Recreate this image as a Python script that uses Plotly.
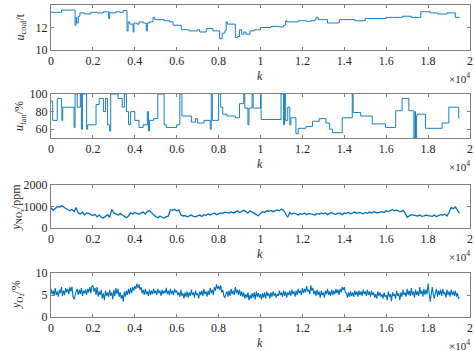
import plotly.graph_objects as go

# ---------------- data ----------------
# u_coal (t): step breakpoints (k) and values
coal_k = [0, 500, 1150, 1200, 1230, 1300, 1380, 1600, 1900, 2200, 2500, 2750, 2800, 2850, 3100, 3300, 3440,
          3630, 3680, 3760, 3920, 3960, 4100, 4200, 4400, 4550, 4600, 4700, 4870, 4950, 5400, 5670, 5830,
          6220, 6600, 7000, 7100, 7410, 7730, 8050, 8170, 8300, 8360, 8420, 8800, 8900, 9000, 9100, 9200,
          9300, 9500, 9700, 10000, 10500, 10900, 11100, 11200, 11250, 11500, 11800, 12200, 12400, 12600,
          12650, 12750, 13200, 13760, 13900, 14500, 15000, 15190, 16000, 16300, 16780, 17000, 17200, 17650,
          18100, 18450, 18900, 19300, 19500]
coal_v = [13.35, 13.55, 12.2, 12.9, 12.4, 13.0, 13.3, 13.2, 13.35, 13.3, 13.4, 12.8, 13.35, 13.3, 13.4,
          13.35, 13.5, 11.7, 12.5, 12.3, 11.6, 12.4, 12.3, 12.5, 12.4, 11.7, 12.4, 12.5, 12.9, 12.7, 12.6,
          12.5, 12.2, 11.8, 11.7, 11.8, 11.6, 11.9, 11.7, 11.0, 11.5, 11.7, 12.5, 12.3, 11.1, 11.2, 11.8,
          11.4, 11.6, 11.4, 11.7, 11.8, 12.0, 12.1, 12.05, 12.2, 12.6, 12.5, 12.5, 12.6, 12.55, 12.6, 12.7,
          12.9, 12.7, 12.4, 12.7, 12.7, 12.6, 12.8, 12.8, 12.9, 12.9, 13.0, 13.0, 12.9, 13.4, 13.3, 13.2,
          13.3, 12.9, 12.9]

# u_fan (%): step breakpoints (k) and values
fan_k = [0, 80, 300, 500, 520, 560, 1100, 1150, 1250, 1400, 1450, 1500, 1700, 1750, 2150, 2300, 2500,
         2600, 2700, 2800, 2850, 3200, 3400, 3500, 3600, 3700, 3800, 4000, 4200, 4400, 4600, 4650, 4700,
         4900, 5100, 5400, 5500, 6000, 6150, 6250, 6500, 6700, 6900, 7000, 7300, 7600, 7650, 7700, 8000,
         8100, 8200, 8400, 8800, 9000, 9200, 9250, 9400, 9450, 9600, 9650, 10000, 10030, 10980, 11100,
         11150, 11200, 11300, 11400, 11450, 11690, 11800, 12170, 12480, 12800, 13120, 13300, 13440, 13900,
         14380, 14420, 14780, 15330, 15970, 16450, 16760, 17080, 17320, 17370, 17400, 17450, 17480, 17880,
         18670, 18990, 19460, 19500]
fan_v = [92, 70, 95, 85, 70, 85, 62, 100, 85, 100, 60, 100, 60, 65, 88, 95, 80, 95, 65, 58, 100, 95,
         85, 100, 80, 65, 80, 70, 62, 65, 80, 58, 70, 72, 100, 65, 62, 65, 100, 75, 75, 68, 72, 67, 70,
         60, 100, 70, 100, 85, 77, 75, 73, 89, 100, 84, 65, 84, 100, 84, 100, 71, 100, 65, 100, 70, 85,
         65, 73, 55, 61, 63, 69, 72, 67, 60, 56, 73, 100, 79, 75, 66, 62, 81, 95, 81, 50, 80, 50, 75, 77,
         61, 67, 85, 73, 73]

# y_NOx (ppm), sampled every 100 steps of k
nox_k = list(range(0, 19600, 100))
nox_v = [950, 820, 900, 1000, 960, 1040, 980, 900, 850, 800,
         870, 760, 950, 700, 650, 740, 600, 700, 680, 620,
         580, 640, 520, 600, 500, 460, 560, 620, 500, 870,
         700, 650, 600, 680, 620, 540, 480, 560, 700, 650,
         720, 680, 640, 700, 740, 650, 760, 800, 700, 620,
         520, 480, 560, 500, 460, 520, 560, 850, 820, 870,
         800, 840, 600, 560, 580, 520, 560, 600, 540, 520,
         560, 600, 540, 620, 580, 660, 600, 640, 700, 620,
         660, 700, 680, 740, 720, 700, 760, 700, 740, 800,
         720, 760, 820, 760, 700, 800, 720, 680, 620, 570,
         680, 760, 720, 800, 780, 820, 760, 800, 840, 800,
         880, 820, 640, 500, 720, 640, 700, 660, 600, 680,
         640, 700, 620, 680, 660, 640, 600, 680, 640, 700,
         660, 700, 620, 680, 720, 660, 640, 700, 680, 620,
         700, 680, 720, 660, 700, 740, 680, 720, 700, 660,
         720, 680, 740, 700, 760, 720, 700, 740, 760, 720,
         800, 760, 820, 860, 800, 840, 780, 760, 820, 700,
         500, 560, 620, 600, 580, 560, 600, 540, 560, 600,
         580, 560, 540, 600, 520, 580, 620, 600, 640, 560,
         720, 950, 900, 980, 800, 680]

# y_O2 (%), sampled every 50 steps of k
o2_k = list(range(0, 19550, 50))
o2_v = [6.4, 5.2, 6.0, 4.8, 6.6, 5.0, 5.8, 4.6, 6.2, 5.4, 6.8, 4.8, 6.0, 5.0, 6.6, 5.6, 6.4, 5.2, 6.8, 5.8,
        6.9, 4.6, 4.0, 5.4, 5.8, 6.4, 5.0, 6.2, 5.2, 6.6, 4.8, 6.0, 5.4, 6.2, 5.0, 6.4, 5.6, 6.8, 5.4, 7.0,
        7.2, 5.8, 6.6, 5.0, 6.8, 4.6, 5.8, 5.0, 6.2, 4.2, 5.4, 3.8, 6.0, 4.8, 5.6, 4.6, 6.2, 4.8, 5.6, 4.0,
        6.2, 4.8, 6.6, 5.2, 6.4, 4.6, 5.6, 4.2, 5.0, 3.5, 5.8, 4.6, 6.0, 5.0, 6.4, 5.2, 6.6, 5.4, 6.8, 6.0,
        7.0, 6.4, 7.6, 6.6, 7.4, 6.2, 6.8, 5.4, 6.2, 5.0, 6.4, 5.2, 5.8, 4.8, 6.2, 5.0, 6.0, 5.2, 6.4, 5.4,
        6.0, 5.0, 6.4, 5.4, 6.0, 4.8, 6.2, 5.2, 6.0, 5.4, 6.6, 5.2, 6.0, 5.0, 6.4, 5.2, 6.0, 5.0, 6.4, 5.6,
        6.0, 5.0, 5.6, 4.6, 6.2, 4.8, 5.4, 4.2, 5.6, 4.6, 5.8, 4.4, 5.6, 4.8, 6.2, 5.0, 5.6, 4.4, 6.0, 5.0,
        5.4, 4.2, 5.8, 5.0, 6.0, 4.8, 6.4, 5.2, 5.8, 4.6, 6.0, 5.0, 6.6, 5.4, 6.2, 5.0, 6.8, 6.0, 7.4, 6.4,
        7.0, 6.2, 7.2, 5.6, 6.2, 4.8, 4.4, 5.2, 5.8, 4.6, 6.0, 4.8, 6.4, 5.2, 6.0, 5.0, 6.8, 5.4, 6.2, 5.0,
        6.2, 4.8, 5.8, 4.6, 5.6, 4.2, 5.2, 4.4, 5.6, 3.8, 5.0, 4.2, 5.4, 4.4, 5.6, 4.0, 5.8, 4.6, 5.4, 4.4,
        5.2, 4.0, 5.4, 4.4, 5.6, 4.2, 5.8, 4.8, 5.4, 4.2, 5.6, 4.6, 5.8, 4.8, 5.4, 4.4, 5.2, 4.8, 6.0, 5.0,
        5.6, 4.6, 6.0, 4.8, 5.8, 4.4, 5.6, 5.0, 6.0, 4.8, 6.2, 5.2, 5.8, 4.6, 6.0, 5.0, 6.4, 5.4, 6.0, 5.0,
        6.6, 5.4, 6.4, 5.6, 7.0, 5.8, 6.2, 5.2, 7.2, 6.0, 6.6, 5.2, 6.0, 4.8, 6.2, 5.0, 5.8, 4.4, 6.0, 5.0,
        5.6, 4.4, 6.0, 5.2, 6.4, 5.0, 5.8, 4.8, 6.2, 5.0, 6.0, 5.2, 6.4, 5.4, 6.2, 5.0, 6.4, 5.6, 6.8, 6.2,
        6.8, 5.6, 5.4, 4.4, 5.6, 4.6, 5.8, 4.8, 5.6, 4.6, 6.0, 5.0, 5.8, 4.6, 6.0, 5.0, 5.8, 4.8, 6.2, 5.2,
        5.8, 4.8, 6.2, 5.0, 5.8, 4.6, 6.0, 5.0, 5.6, 4.4, 5.2, 4.2, 5.8, 4.8, 5.6, 4.6, 5.2, 4.2, 5.6, 4.6,
        5.0, 3.8, 5.8, 4.6, 5.2, 3.6, 5.6, 4.8, 5.2, 4.2, 6.0, 4.8, 5.4, 3.8, 5.6, 4.6, 6.2, 5.0, 5.6, 4.6,
        6.4, 5.0, 6.0, 4.8, 6.6, 5.0, 5.8, 4.4, 6.2, 5.0, 5.8, 4.8, 6.8, 5.2, 6.0, 4.6, 6.4, 5.0, 6.2, 5.2,
        7.6, 5.4, 3.5, 5.2, 6.8, 5.0, 4.2, 5.6, 6.4, 4.6, 6.0, 5.0, 6.2, 4.8, 6.4, 5.2, 5.6, 4.4, 6.2, 5.0,
        5.8, 4.6, 6.2, 5.0, 5.8, 4.8, 6.0, 4.6, 5.4, 4.2, 4.4]

x_tickvals = [0, 2000, 4000, 6000, 8000, 10000, 12000, 14000, 16000, 18000, 20000]
x_ticktext = ["0", "0.2", "0.4", "0.6", "0.8", "1", "1.2", "1.4", "1.6", "1.8", "2"]

y_ranges = [[10, 14], [50, 100], [0, 2000], [0, 10]]
y_tickvals = [[10, 12, 14], [60, 80, 100], [0, 1000, 2000], [0, 5, 10]]
y_titles = ["<i>u</i><sub>coal</sub>/t", "<i>u</i><sub>fan</sub>/%",
            "<i>y</i><sub>NO<sub>x</sub></sub>/ppm", "<i>y</i><sub>O<sub>2</sub></sub>/%"]
y_title_x = [21, 20, 16, 17]

# ---------------- layout geometry (pixels) ----------------
W, H = 474, 351
x_left, x_right = 51, 470
panels = [(5, 50), (94, 138), (185, 228), (273, 317)]  # (top, bottom) in px

LINE = "#0072BD"
FONT = "Liberation Serif"
AX = "#808080"
TXT = "#262626"

fig = go.Figure()
series = [(coal_k, coal_v, "hv", 0.9), (fan_k, fan_v, "hv", 0.9),
          (nox_k, nox_v, "linear", 1.3), (o2_k, o2_v, "linear", 1.1)]

annotations = []
for i, ((xs, ys, shape, w), (top, bot)) in enumerate(zip(series, panels)):
    n = "" if i == 0 else str(i + 1)
    fig.add_trace(go.Scatter(x=xs, y=ys, mode="lines", line=dict(color=LINE, width=w, shape=shape),
                             xaxis="x" + n, yaxis="y" + n, showlegend=False, hoverinfo="skip"))
    dom_y = [1 - bot / H, 1 - top / H]
    fig.layout["xaxis" + n] = dict(
        domain=[x_left / W, x_right / W], range=[0, 20000], anchor="y" + n,
        tickvals=x_tickvals, ticktext=x_ticktext, ticks="inside", ticklen=3, tickcolor=AX,
        showline=True, linecolor=AX, linewidth=1, mirror="ticks", showgrid=False, zeroline=False,
        tickfont=dict(family=FONT, size=12, color=TXT), automargin=False)
    fig.layout["yaxis" + n] = dict(
        domain=dom_y, range=y_ranges[i], anchor="x" + n,
        tickvals=y_tickvals[i], ticks="inside", ticklen=3, tickcolor=AX,
        showline=True, linecolor=AX, linewidth=1, mirror="ticks", showgrid=False, zeroline=False,
        tickfont=dict(family=FONT, size=12, color=TXT), automargin=False)
    # x-axis title "k"
    annotations.append(dict(text="<i>k</i>", x=260 / W, y=1 - (bot + 26) / H, xref="paper", yref="paper",
                            xanchor="center", yanchor="middle", showarrow=False,
                            font=dict(family=FONT, size=12, color=TXT)))
    # x10^4 exponent
    annotations.append(dict(text="×10<sup>4</sup>", x=472 / W, y=1 - (bot + 28) / H, xref="paper",
                            yref="paper", xanchor="right", yanchor="middle", showarrow=False,
                            font=dict(family=FONT, size=11, color=TXT)))
    # y-axis title
    annotations.append(dict(text=y_titles[i], x=y_title_x[i] / W, y=1 - (top + bot) / 2 / H, xref="paper",
                            yref="paper", xanchor="center", yanchor="middle", textangle=-90,
                            showarrow=False, font=dict(family=FONT, size=12, color=TXT)))

fig.update_layout(width=W, height=H, margin=dict(l=0, r=0, t=0, b=0),
                  paper_bgcolor="white", plot_bgcolor="white", annotations=annotations)

fig.write_html("out.html")
